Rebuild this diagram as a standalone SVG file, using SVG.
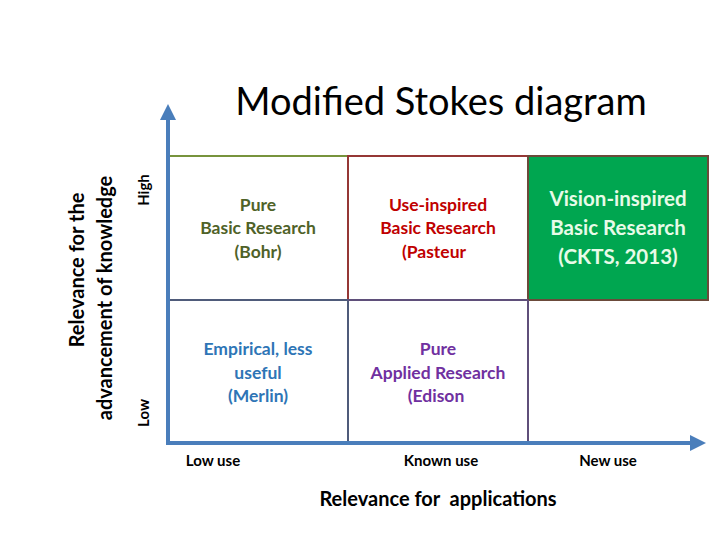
<svg xmlns="http://www.w3.org/2000/svg" width="720" height="540" viewBox="0 0 720 540">
<style>
text{font-family:Lato,"Liberation Sans",sans-serif;font-weight:bold;text-anchor:middle}
.c{font-size:17.5px}
.ax{font-size:15px;fill:#000}
.big{font-size:20px;fill:#000}
</style>
<defs>
<marker id="ah" markerWidth="16" markerHeight="16" refX="4" refY="8" orient="auto" markerUnits="userSpaceOnUse" viewBox="0 0 16 16"><path d="M0,0 L16,8 L0,16 Z" fill="#4a7ebb"/></marker>
</defs>
<rect width="720" height="540" fill="#fff"/>
<text x="441" y="115" style="font-size:38px;font-weight:normal" fill="#000">Modified Stokes diagram</text>
<g id="cell-pure-basic">
<line x1="168" y1="156" x2="348" y2="156" stroke="#77933c" stroke-width="2"/>
<text class="c" fill="#4f6228"><tspan x="258" y="211">Pure</tspan><tspan x="258" y="234">Basic Research</tspan><tspan x="258" y="258">(Bohr)</tspan></text>
</g>
<g id="cell-use-inspired">
<rect x="348" y="156" width="180" height="144" fill="none" stroke="#953735" stroke-width="2"/>
<text class="c" fill="#c00000"><tspan x="438" y="211">Use-inspired</tspan><tspan x="438" y="234">Basic Research</tspan><tspan x="434" y="258">(Pasteur</tspan></text>
</g>
<g id="cell-vision">
<rect x="528" y="156" width="180" height="144" fill="#00a650" stroke="#6b4a3a" stroke-width="2"/>
<text style="font-size:20.5px" fill="#e8fbe8"><tspan x="618" y="206">Vision-inspired</tspan><tspan x="618" y="235">Basic Research</tspan><tspan x="618" y="264">(CKTS, 2013)</tspan></text>
</g>
<g id="cell-empirical">
<line x1="168" y1="300" x2="348" y2="300" stroke="#4f5b7a" stroke-width="2"/>
<line x1="348" y1="300" x2="348" y2="443" stroke="#4f5b7a" stroke-width="2"/>
<text class="c" fill="#2e75b6"><tspan x="258" y="355">Empirical, less</tspan><tspan x="258" y="379">useful</tspan><tspan x="258" y="402">(Merlin)</tspan></text>
</g>
<g id="cell-pure-applied">
<line x1="348" y1="300" x2="528" y2="300" stroke="#5f4f7a" stroke-width="2"/>
<line x1="528" y1="300" x2="528" y2="443" stroke="#5f4f7a" stroke-width="2"/>
<text class="c" fill="#7030a0"><tspan x="438" y="355">Pure</tspan><tspan x="438" y="379">Applied Research</tspan><tspan x="436" y="402">(Edison</tspan></text>
</g>
<g id="connectors">
<line x1="168" y1="445" x2="168" y2="116" stroke="#4a7ebb" stroke-width="4" marker-end="url(#ah)"/>
<line x1="166" y1="443" x2="694" y2="443" stroke="#4a7ebb" stroke-width="4" marker-end="url(#ah)"/>
</g>
<g id="labels">
<text class="ax" x="213" y="466">Low use</text>
<text class="ax" x="441" y="466">Known use</text>
<text class="ax" x="608" y="466">New use</text>
<text class="big" x="438" y="506">Relevance for&#160; applications</text>
<text class="ax" transform="translate(149,190) rotate(-90)">High</text>
<text class="ax" transform="translate(149,413) rotate(-90)">Low</text>
<text class="big" transform="translate(84,270) rotate(-90)">Relevance for the</text>
<text class="big" transform="translate(112,298) rotate(-90)">advancement of knowledge</text>
</g>
</svg>
